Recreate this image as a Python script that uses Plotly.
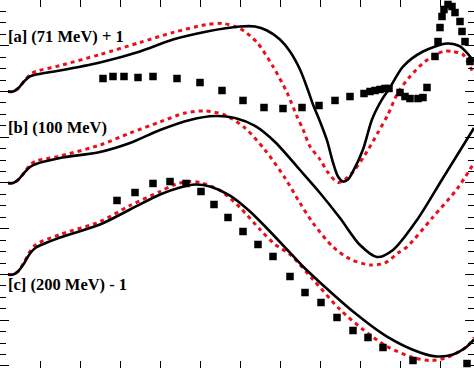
import plotly.graph_objects as go

# ---------------- data (angle in deg, value before offset) ----------------
# [a] 71 MeV  (shown +1)
a_x_black = [2, 3.25, 4.5, 6, 7.5, 9, 15, 25, 35, 43.25, 51.75, 60, 63.75, 66.75, 70, 72.5, 75,
             76.75, 78.25, 80, 81.75, 83.25, 84.5, 85.75, 87, 88.25, 90.75, 93, 95.5, 97.5,
             100.75, 105.75, 111.75, 115, 118.5]
a_y_black = [0, 0, 0.033, 0.109, 0.164, 0.186, 0.230, 0.317, 0.437, 0.568, 0.656, 0.710, 0.710,
             0.667, 0.568, 0.437, 0.240, 0.044, -0.142, -0.328, -0.535, -0.776, -0.929, -0.984,
             -0.962, -0.874, -0.634, -0.306, -0.087, 0.044, 0.273, 0.437, 0.525, 0.492, 0.328]
a_x_red = [2, 3.25, 4.5, 6, 7.5, 9, 15, 25, 35, 43.25, 51.75, 55.75, 60, 64.25, 68.25, 71.75,
           74.25, 75.75, 77.5, 80, 82, 84.5, 86.25, 88.75, 91.75, 94.5, 97, 99.5, 102.5, 106.25,
           110.75, 113.25, 115.75, 117.5, 118.5]
a_y_red = [0, 0, 0.033, 0.109, 0.186, 0.219, 0.284, 0.404, 0.536, 0.645, 0.732, 0.743, 0.689,
           0.536, 0.273, -0.011, -0.273, -0.415, -0.601, -0.743, -0.885, -0.995, -0.962, -0.852,
           -0.656, -0.448, -0.251, -0.011, 0.164, 0.328, 0.437, 0.437, 0.404, 0.273, 0.186]
a_x_data = [25.75, 28.25, 31, 34.5, 38.25, 44.25, 50, 55.5, 60.75, 66, 70.75, 75.5, 79.75, 83.75,
            87.5, 91, 92.5, 93.75, 95, 96.25, 97.25, 100, 101.25, 102.5, 104.5, 105.75, 106.75,
            108.75, 109.5, 110, 110.5, 111, 112, 113, 113.75, 115, 115.5, 116.25, 117.5]
a_y_data = [0.142, 0.164, 0.164, 0.153, 0.164, 0.142, 0.098, 0.011, -0.098, -0.175, -0.186,
            -0.175, -0.153, -0.098, -0.055, -0.022, 0, 0.011, 0.022, 0.033, 0.033, -0.011,
            -0.055, -0.077, -0.077, -0.066, 0.044, 0.383, 0.546, 0.699, 0.820, 0.896, 0.951,
            0.929, 0.863, 0.765, 0.656, 0.546, 0.328]

# [b] 100 MeV (shown +0)
b_x_black = [2, 3.25, 4.5, 6, 7.5, 9, 15, 25, 32.5, 40, 47.5, 53.75, 58.75, 63.75, 68.75, 75,
             80, 85, 90, 94.25, 98.25, 104.25, 110.75, 118.5]
b_y_black = [0, 0, 0.033, 0.109, 0.175, 0.208, 0.273, 0.339, 0.437, 0.579, 0.689, 0.732, 0.710,
             0.623, 0.448, 0.142, -0.109, -0.383, -0.678, -0.809, -0.732, -0.404, 0.055, 0.601]
b_x_red = [2, 3.25, 4.5, 6, 7.5, 9, 15, 25, 32.5, 40, 46.25, 51.25, 56.25, 61.25, 66.25, 71.25,
           75, 78.25, 83.25, 87.5, 92.5, 96.25, 99.5, 101.75, 108.25, 114.25, 118.5]
b_y_red = [0, 0, 0.033, 0.109, 0.197, 0.240, 0.295, 0.415, 0.546, 0.667, 0.765, 0.787, 0.743,
           0.601, 0.361, 0.055, -0.219, -0.437, -0.699, -0.831, -0.896, -0.874, -0.765, -0.699,
           -0.372, -0.066, 0.219]

# [c] 200 MeV (shown -1)
c_x_black = [2, 3.25, 4.5, 6, 7.5, 9, 15, 25, 32.5, 40, 45, 48.75, 52.5, 57.5, 62.5, 67.5,
             71.75, 75.75, 80, 88.25, 96.75, 105, 109.25, 113.25, 116.75, 118.5]
c_y_black = [0, 0, 0.033, 0.120, 0.230, 0.295, 0.404, 0.546, 0.710, 0.874, 0.951, 0.984, 0.962,
             0.863, 0.689, 0.470, 0.273, 0.087, -0.087, -0.404, -0.678, -0.852, -0.896, -0.874,
             -0.787, -0.710]
c_x_red = [2, 3.25, 4.5, 6, 7.5, 9, 15, 25, 32.5, 40, 43.75, 47, 50, 55, 60, 65, 68.75, 72.5,
           78.25, 85, 90.75, 96.75, 103.25, 107.5, 111.75, 116.75, 118.5]
c_y_red = [0, 0, 0.033, 0.131, 0.251, 0.328, 0.437, 0.579, 0.754, 0.907, 0.984, 1.016, 1.005,
           0.918, 0.732, 0.492, 0.328, 0.219, -0.055, -0.383, -0.601, -0.787, -0.907, -0.940,
           -0.907, -0.787, -0.689]
c_x_data = [29.25, 33.75, 38.25, 42.5, 46.5, 50.25, 53.5, 57, 60.75, 64.5, 68.25, 72.5, 76.25,
            80.25, 84.25, 88.25, 92, 95.75, 103.25, 116.75]
c_y_data = [0.809, 0.896, 0.995, 1.016, 0.995, 0.907, 0.765, 0.623, 0.470, 0.328, 0.197, -0.022,
            -0.197, -0.306, -0.470, -0.612, -0.689, -0.798, -0.940, -0.973]

offsets = {"a": 1.0, "b": 0.0, "c": -1.0}
labels = {"a": "[a] (71 MeV) + 1", "b": "[b] (100 MeV)", "c": "[c] (200 MeV) - 1"}
label_y = {"a": 1.60, "b": 0.605, "c": -1.11}

RED = "#e8101c"
sets = {
    "a": (a_x_black, a_y_black, a_x_red, a_y_red, a_x_data, a_y_data),
    "b": (b_x_black, b_y_black, b_x_red, b_y_red, None, None),
    "c": (c_x_black, c_y_black, c_x_red, c_y_red, c_x_data, c_y_data),
}

fig = go.Figure()
for key, (xb, yb, xr, yr, xd, yd) in sets.items():
    off = offsets[key]
    fig.add_trace(go.Scatter(x=xr, y=[v + off for v in yr], mode="lines",
                             line=dict(color=RED, width=3, dash="4px,4px", shape="spline", smoothing=0.8),
                             showlegend=False, hoverinfo="skip"))
    fig.add_trace(go.Scatter(x=xb, y=[v + off for v in yb], mode="lines",
                             line=dict(color="black", width=2.6, shape="spline", smoothing=0.8),
                             showlegend=False, hoverinfo="skip"))
    if xd is not None:
        fig.add_trace(go.Scatter(x=xd, y=[v + off for v in yd], mode="markers",
                                 marker=dict(symbol="square", size=7.5, color="black"),
                                 showlegend=False, hoverinfo="skip"))
    fig.add_annotation(x=1.4, y=label_y[key], text="<b>" + labels[key] + "</b>",
                       showarrow=False, xanchor="left", yanchor="middle",
                       font=dict(family="Liberation Serif", size=16.5, color="black"))

fig.update_layout(
    width=474, height=368,
    margin=dict(l=0, r=0, t=0, b=0),
    paper_bgcolor="white", plot_bgcolor="white",
    xaxis=dict(range=[0, 118.5], tickmode="array", tickvals=[10, 20, 30, 40, 50, 60, 70, 80, 90, 100, 110],
               ticks="inside", ticklen=7, tickwidth=1, tickcolor="black", showticklabels=False,
               showgrid=False, zeroline=False, showline=False, mirror="ticks"),
    yaxis=dict(range=[-2.022, 2.0], tick0=0, dtick=0.5,
               ticks="inside", ticklen=9, tickwidth=1, tickcolor="black", showticklabels=False,
               showgrid=False, zeroline=False, showline=False, mirror="ticks",
               minor=dict(dtick=0.125, tick0=0, ticks="inside", ticklen=6, tickcolor="black", showgrid=False)),
)

fig.write_html("out.html", config={"displayModeBar": False},
               post_script="document.body.style.margin='0';document.body.style.overflow='hidden';")
